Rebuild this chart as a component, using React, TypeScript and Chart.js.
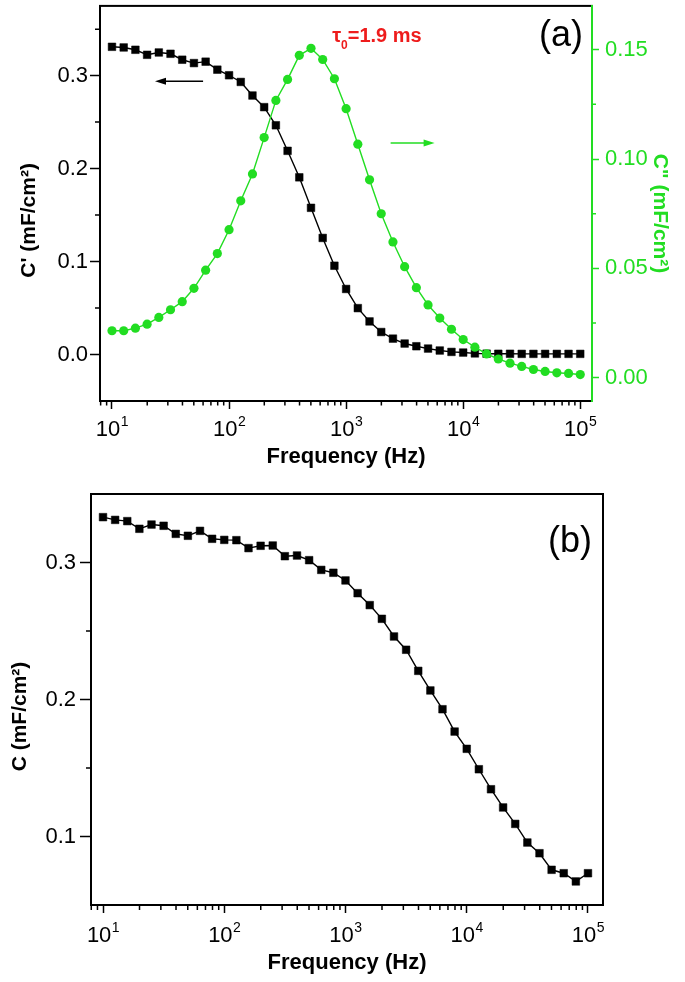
import React, { useEffect, useRef } from 'react';
import { Chart, registerables } from 'chart.js';
import type { ChartConfiguration, Plugin } from 'chart.js';

Chart.register(...registerables);

const FONT = "'Liberation Sans', Arial, Helvetica, sans-serif";
const GREEN = '#22dd22';

// measured frequencies (10 points per decade)
const frequency = [
    10, 12.59, 15.85, 19.95, 25.12, 31.62, 39.81, 50.12, 63.1, 79.43,
    100, 125.9, 158.5, 199.5, 251.2, 316.2, 398.1, 501.2, 631, 794.3,
    1000, 1259, 1585, 1995, 2512, 3162, 3981, 5012, 6310, 7943,
    10000, 12589, 15849, 19953, 25119, 31623, 39811, 50119, 63096, 79433, 100000,
];

// (a) C' in mF/cm2, left axis
const cReal = [
    0.331, 0.3303, 0.3278, 0.3224, 0.3249, 0.3235, 0.3171, 0.3135, 0.315, 0.3064,
    0.3004, 0.2932, 0.2786, 0.2661, 0.2466, 0.2191, 0.1906, 0.1578, 0.1254, 0.0955,
    0.0705, 0.0499, 0.0356, 0.0242, 0.0171, 0.0118, 0.0089, 0.0064, 0.0043, 0.0028,
    0.0021, 0.0012, 0.0009, 0.0008, 0.0008, 0.0007, 0.0007, 0.0007, 0.0007, 0.0007, 0.0007,
];

// (a) C'' in mF/cm2, right axis
const cImag = [
    0.0215, 0.0215, 0.0227, 0.0245, 0.0276, 0.0311, 0.0348, 0.0409, 0.0492, 0.0568,
    0.0677, 0.0809, 0.0932, 0.1098, 0.1268, 0.1364, 0.1474, 0.1506, 0.1455, 0.1367,
    0.123, 0.1068, 0.0905, 0.075, 0.0621, 0.0508, 0.0412, 0.0333, 0.0273, 0.0222,
    0.0175, 0.014, 0.0109, 0.0086, 0.0067, 0.0052, 0.0038, 0.0029, 0.0023, 0.002, 0.0015,
];

// (b) C in mF/cm2
const cTotal = [
    0.3331, 0.3311, 0.3302, 0.3246, 0.3277, 0.3268, 0.3209, 0.3195, 0.3231, 0.3173,
    0.3165, 0.3163, 0.3105, 0.3122, 0.3124, 0.3046, 0.3051, 0.3017, 0.2946, 0.2925,
    0.2869, 0.2776, 0.2689, 0.2589, 0.246, 0.2363, 0.2209, 0.2066, 0.1929, 0.1766,
    0.164, 0.1491, 0.1345, 0.1212, 0.1092, 0.0956, 0.0878, 0.0757, 0.0732, 0.0672, 0.0732,
];

const xTickValues = [10, 100, 1000, 10000, 100000];
const xTickExponents = ['1', '2', '3', '4', '5'];
const xMinorTicks = [2, 3, 4, 5, 6, 7, 8, 9].flatMap(m => [1, 10, 100, 1000, 10000].map(d => m * d));

const realTicks = [0, 0.1, 0.2, 0.3];
const realMinor = [0.05, 0.15, 0.25, 0.35];
const imagTicks = [0, 0.05, 0.1, 0.15];
const imagMinor = [0.025, 0.075, 0.125];
const totalTicks = [0.1, 0.2, 0.3];
const totalMinor = [0.15, 0.25];

interface YTitle { text: string; dx: number; dy: number; side: 'left' | 'right'; color: string }

interface Decor {
    rightFrame: string;
    minor: [string, number[], number, string][];
    xLabelOffset: number;
    yTitles: YTitle[];
    panel: { text: string; dx: number; dy: number };
    extra?: (chart: Chart) => void;
}

const drawArrow = (ctx: CanvasRenderingContext2D, x1: number, x2: number, y: number, color: string) => {
    const dir = Math.sign(x2 - x1);
    ctx.strokeStyle = color;
    ctx.fillStyle = color;
    ctx.lineWidth = 1.6;
    ctx.beginPath();
    ctx.moveTo(x1, y);
    ctx.lineTo(x2 - dir * 8, y);
    ctx.stroke();
    ctx.beginPath();
    ctx.moveTo(x2, y);
    ctx.lineTo(x2 - dir * 11, y - 3.5);
    ctx.lineTo(x2 - dir * 11, y + 3.5);
    ctx.closePath();
    ctx.fill();
};

const makeDecor = (d: Decor): Plugin<'line'> => ({
    id: 'decor',
    afterDraw(chart) {
        const { ctx, chartArea: a, scales } = chart;
        ctx.save();

        // minor ticks
        d.minor.forEach(([id, values, len, color]) => {
            const s = scales[id];
            ctx.strokeStyle = color;
            ctx.lineWidth = 1.5;
            ctx.beginPath();
            values.forEach(v => {
                if (v < s.min || v > s.max) return;
                const p = s.getPixelForValue(v);
                if (s.isHorizontal()) { ctx.moveTo(p, a.bottom); ctx.lineTo(p, a.bottom + len); }
                else if (s.position === 'left') { ctx.moveTo(a.left, p); ctx.lineTo(a.left - len, p); }
                else { ctx.moveTo(a.right, p); ctx.lineTo(a.right + len, p); }
            });
            ctx.stroke();
        });

        // frame
        ctx.lineWidth = 2;
        ctx.strokeStyle = '#000';
        ctx.strokeRect(a.left, a.top, a.right - a.left, a.bottom - a.top);
        ctx.strokeStyle = d.rightFrame;
        ctx.beginPath();
        ctx.moveTo(a.right, a.top - 1);
        ctx.lineTo(a.right, a.bottom + 1);
        ctx.stroke();

        // x tick labels 10^n
        const xs = scales.x;
        ctx.fillStyle = '#000';
        ctx.textBaseline = 'alphabetic';
        ctx.textAlign = 'left';
        xTickValues.forEach((v, i) => {
            ctx.font = `22px ${FONT}`;
            const wb = ctx.measureText('10').width;
            ctx.font = `14px ${FONT}`;
            const we = ctx.measureText(xTickExponents[i]).width;
            const x0 = xs.getPixelForValue(v) - (wb + we) / 2;
            const y0 = a.bottom + d.xLabelOffset;
            ctx.font = `22px ${FONT}`;
            ctx.fillText('10', x0, y0);
            ctx.font = `14px ${FONT}`;
            ctx.fillText(xTickExponents[i], x0 + wb + 0.5, y0 - 10);
        });

        // y titles
        const cy = (a.top + a.bottom) / 2;
        d.yTitles.forEach(t => {
            ctx.save();
            ctx.font = `bold 21px ${FONT}`;
            ctx.fillStyle = t.color;
            ctx.textAlign = 'center';
            ctx.textBaseline = 'middle';
            const x = t.side === 'left' ? a.left + t.dx : a.right + t.dx;
            ctx.translate(x, cy + t.dy);
            ctx.rotate(t.side === 'left' ? -Math.PI / 2 : Math.PI / 2);
            ctx.fillText(t.text, 0, 0);
            ctx.restore();
        });

        // panel letter
        ctx.font = `36px ${FONT}`;
        ctx.fillStyle = '#000';
        ctx.textAlign = 'right';
        ctx.textBaseline = 'alphabetic';
        ctx.fillText(d.panel.text, a.right + d.panel.dx, a.top + d.panel.dy);

        if (d.extra) d.extra(chart as unknown as Chart);
        ctx.restore();
    },
});

const tauNote = (chart: Chart) => {
    const { ctx, scales } = chart;
    const x = scales.x.getPixelForValue(760);
    const y = scales.y1.getPixelForValue(0.1534);
    ctx.fillStyle = '#ee1c1c';
    ctx.textAlign = 'left';
    ctx.textBaseline = 'alphabetic';
    ctx.font = `bold 20px ${FONT}`;
    ctx.fillText('τ', x, y);
    const w1 = ctx.measureText('τ').width;
    ctx.font = `bold 12px ${FONT}`;
    ctx.fillText('0', x + w1, y + 7);
    const w2 = ctx.measureText('0').width;
    ctx.font = `bold 20px ${FONT}`;
    ctx.fillText('=1.9 ms', x + w1 + w2, y);

    const yb = scales.y.getPixelForValue(0.294);
    drawArrow(ctx, scales.x.getPixelForValue(60), scales.x.getPixelForValue(23.3), yb, '#000');
    const yg = scales.y1.getPixelForValue(0.1073);
    drawArrow(ctx, scales.x.getPixelForValue(2400), scales.x.getPixelForValue(5700), yg, GREEN);
};

const xScale = (min: number, max: number, height: number, titlePad: number) => ({
    type: 'logarithmic' as const,
    position: 'bottom' as const,
    min,
    max,
    afterBuildTicks: (s: any) => { s.ticks = xTickValues.map(v => ({ value: v })); },
    afterFit: (s: any) => {
        s.height = height;
        s.paddingLeft = 0;
        s.paddingRight = 0;
    },
    ticks: { display: false },
    grid: { drawOnChartArea: false, tickLength: 8, tickWidth: 1.5, tickColor: '#000' },
    border: { display: false },
    title: {
        display: true,
        text: 'Frequency (Hz)',
        color: '#000',
        font: { family: FONT, size: 22, weight: 'bold' as const },
        padding: { top: 0, bottom: titlePad },
    },
});

const yScale = (
    position: 'left' | 'right', min: number, max: number, ticks: number[], digits: number,
    width: number, tickLength: number, padding: number, color: string,
) => ({
    type: 'linear' as const,
    position,
    min,
    max,
    afterBuildTicks: (s: any) => { s.ticks = ticks.map(v => ({ value: v })); },
    afterFit: (s: any) => {
        // fixed axis width, and no extra room for half label heights
        s.width = width;
        s.paddingTop = 0;
        s.paddingBottom = 0;
    },
    ticks: {
        color,
        padding,
        font: { family: FONT, size: 22 },
        callback: (v: string | number) => Number(v).toFixed(digits),
    },
    grid: { drawOnChartArea: false, tickLength, tickWidth: 1.5, tickColor: color },
    border: { display: false },
});

const configA = (): ChartConfiguration<'line'> => ({
    type: 'line',
    data: {
        datasets: [
            {
                label: 'C"',
                data: frequency.map((f, i) => ({ x: f, y: cImag[i] })),
                yAxisID: 'y1',
                borderColor: GREEN,
                backgroundColor: GREEN,
                borderWidth: 1.4,
                pointStyle: 'circle',
                pointRadius: 4.6,
                pointBorderWidth: 0,
            },
            {
                label: "C'",
                data: frequency.map((f, i) => ({ x: f, y: cReal[i] })),
                yAxisID: 'y',
                borderColor: '#000',
                backgroundColor: '#000',
                borderWidth: 1.4,
                pointStyle: 'rect',
                pointRadius: 5.4,
                pointBorderWidth: 0.5,
            },
        ],
    },
    options: {
        animation: false,
        responsive: true,
        maintainAspectRatio: false,
        layout: { padding: { top: 3, left: 0, right: 0, bottom: 0 } },
        plugins: { legend: { display: false }, tooltip: { enabled: false } },
        scales: {
            x: xScale(7.9, 126000, 79, 10),
            y: yScale('left', -0.05, 0.375, realTicks, 1, 100, 10, 2, '#000'),
            y1: yScale('right', -0.0106, 0.17, imagTicks, 2, 93, 7, 6, GREEN),
        } as any,
    },
    plugins: [makeDecor({
        rightFrame: GREEN,
        minor: [['x', xMinorTicks, 4.5, '#000'], ['y', realMinor, 5, '#000'], ['y1', imagMinor, 4, GREEN]],
        xLabelOffset: 35,
        yTitles: [
            { text: "C' (mF/cm²)", dx: -71, dy: 17, side: 'left', color: '#000' },
            { text: 'C" (mF/cm²)', dx: 68, dy: 10, side: 'right', color: GREEN },
        ],
        panel: { text: '(a)', dx: -9, dy: 40 },
        extra: tauNote,
    })],
});

const configB = (): ChartConfiguration<'line'> => ({
    type: 'line',
    data: {
        datasets: [
            {
                label: 'C',
                data: frequency.map((f, i) => ({ x: f, y: cTotal[i] })),
                borderColor: '#000',
                backgroundColor: '#000',
                borderWidth: 1.4,
                pointStyle: 'rect',
                pointRadius: 5.4,
                pointBorderWidth: 0.5,
            },
        ],
    },
    options: {
        animation: false,
        responsive: true,
        maintainAspectRatio: false,
        layout: { padding: { top: 14, left: 0, right: 82, bottom: 0 } },
        plugins: { legend: { display: false }, tooltip: { enabled: false } },
        scales: {
            x: xScale(7.96, 133000, 77, 6),
            y: yScale('left', 0.05, 0.35, totalTicks, 1, 91, 11, 4, '#000'),
        } as any,
    },
    plugins: [makeDecor({
        rightFrame: '#000',
        minor: [['x', xMinorTicks, 5, '#000'], ['y', totalMinor, 5, '#000']],
        xLabelOffset: 37,
        yTitles: [{ text: 'C (mF/cm²)', dx: -71, dy: 17, side: 'left', color: '#000' }],
        panel: { text: '(b)', dx: -11, dy: 58 },
    })],
});

const ChartPanel: React.FC<{ height: number; makeConfig: () => ChartConfiguration<'line'> }> = ({ height, makeConfig }) => {
    const canvasRef = useRef<HTMLCanvasElement>(null);

    useEffect(() => {
        if (!canvasRef.current) return;
        const chart = new Chart(canvasRef.current, makeConfig());
        return () => chart.destroy();
    }, [makeConfig]);

    return (
        <div style={{ position: 'relative', width: 685, height }}>
            <canvas ref={canvasRef}></canvas>
        </div>
    );
};

const App: React.FC = () => (
    <div style={{ position: 'absolute', left: 0, top: 0, width: 685, height: 982, background: '#fff' }}>
        <ChartPanel height={480} makeConfig={configA} />
        <ChartPanel height={502} makeConfig={configB} />
    </div>
);

export default App;
